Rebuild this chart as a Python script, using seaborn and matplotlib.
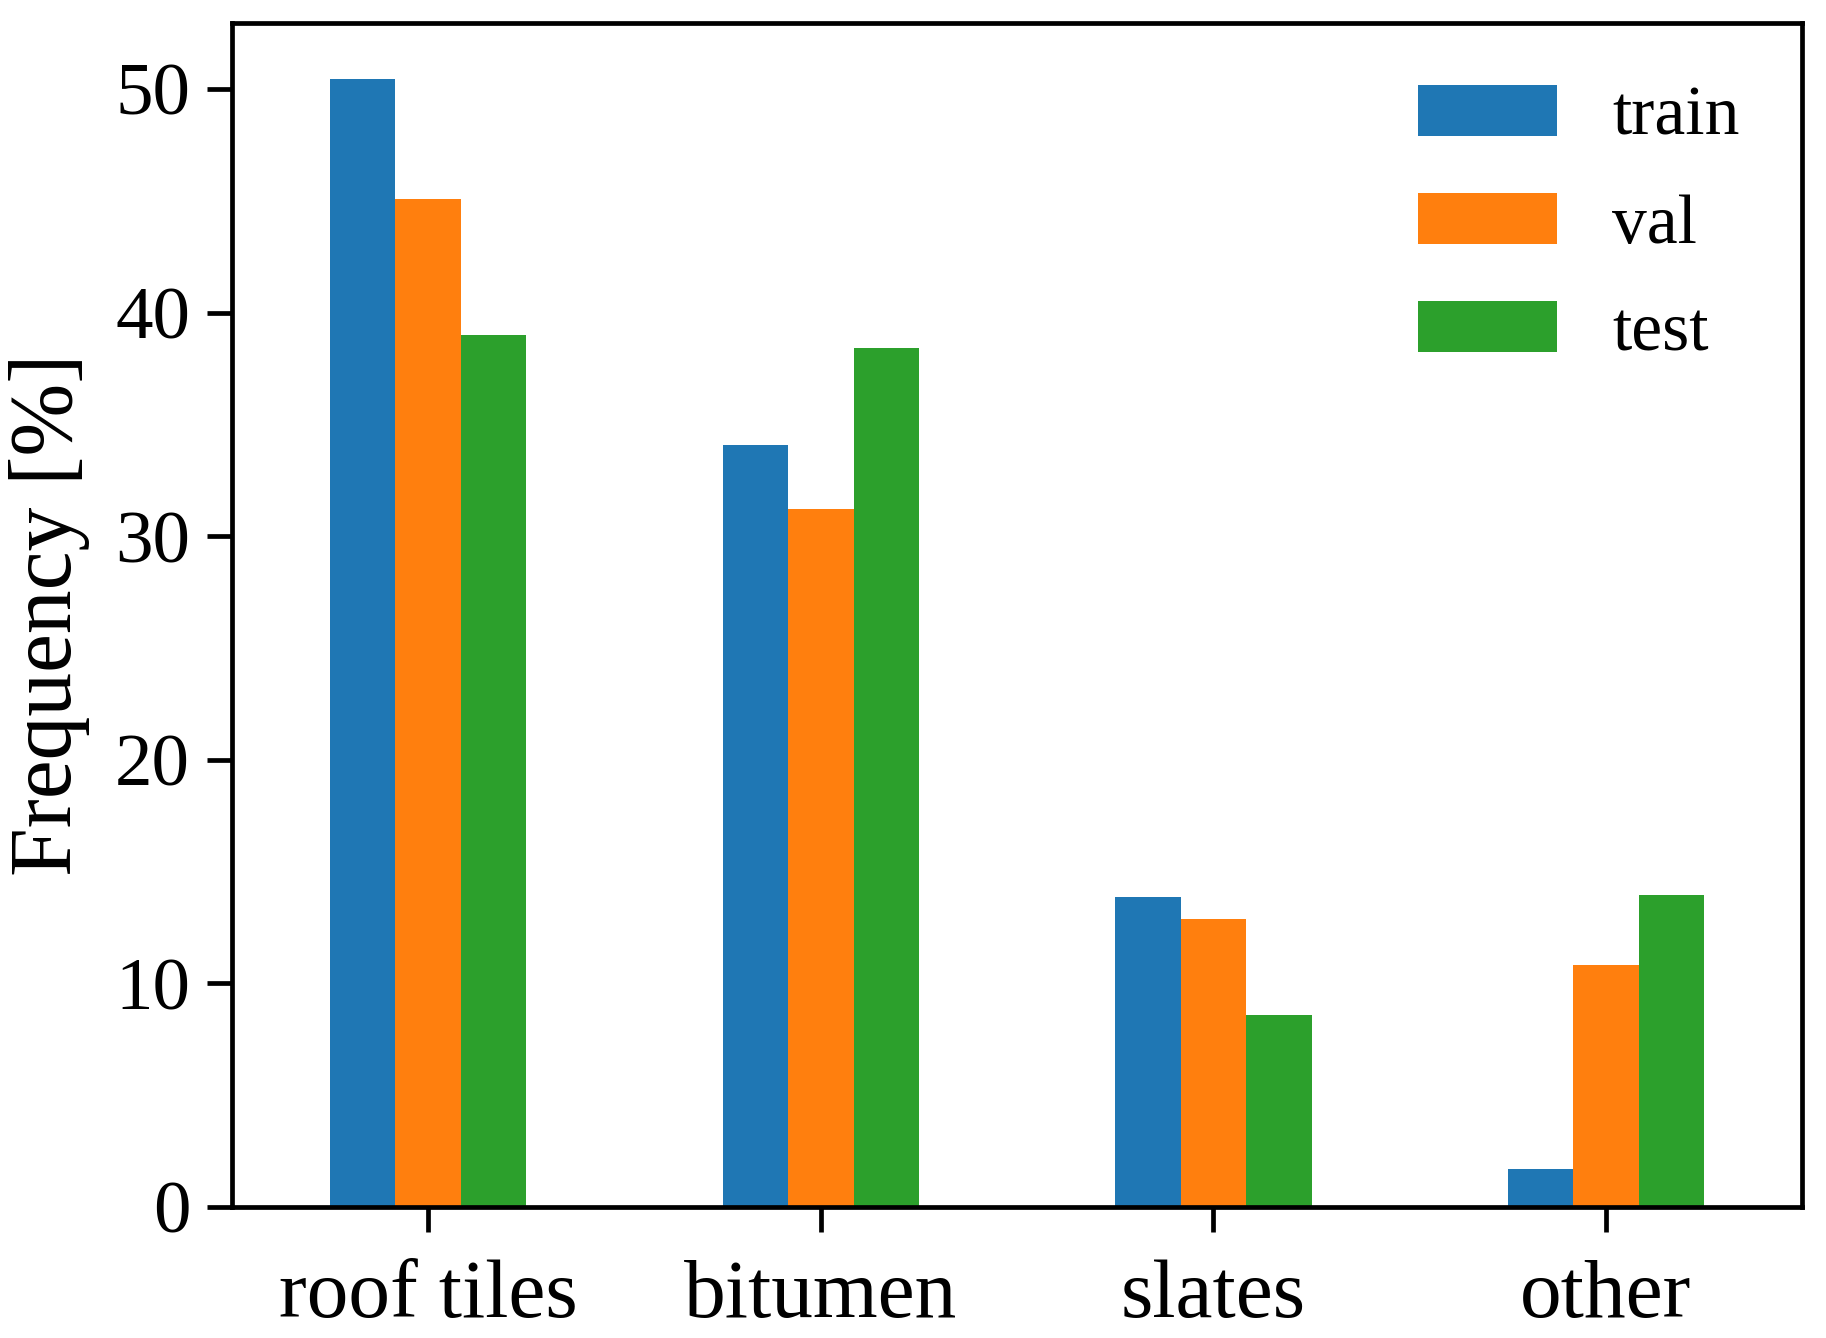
import matplotlib
matplotlib.use("Agg")
import matplotlib.pyplot as plt
import pandas as pd
import seaborn as sns

# values (percent)
materials = ["roof tiles", "bitumen", "slates", "other"]
splits = ["train", "val", "test"]
train = [50.45, 34.1, 13.85, 1.7]
val = [45.1, 31.2, 12.9, 10.8]
test = [39.0, 38.4, 8.6, 13.95]
colors = ["#1f77b4", "#ff7f0e", "#2ca02c"]

rows = []
for name, vals in zip(splits, [train, val, test]):
    for m, v in zip(materials, vals):
        rows.append({"material": m, "split": name, "freq": v})
df = pd.DataFrame(rows)

sns.set_style("ticks")
plt.rcParams["font.family"] = ["Liberation Serif", "DejaVu Serif"]
plt.rcParams["axes.linewidth"] = 1.7
plt.rcParams["text.color"] = "black"
plt.rcParams["axes.labelcolor"] = "black"
plt.rcParams["xtick.color"] = "black"
plt.rcParams["ytick.color"] = "black"

fig = plt.figure(figsize=(9.13, 6.69), dpi=200)
ax = fig.add_axes([0.127, 0.098, 0.86, 0.885])

sns.barplot(data=df, x="material", y="freq", hue="split", order=materials,
            hue_order=splits, palette=colors, width=0.5, saturation=1,
            linewidth=0, ax=ax)

ax.set_xlim(-0.5, 3.5)
ax.set_yticks([0, 10, 20, 30, 40, 50])
ax.set_xlabel("")
ax.set_ylabel("Frequency [%]", fontsize=31.5, labelpad=9)
ax.tick_params(axis="x", labelsize=30, length=9, width=1.7, pad=10)
ax.tick_params(axis="y", labelsize=27, length=9, width=1.7, pad=6)
for s in ax.spines.values():
    s.set_visible(True)
    s.set_color("black")
    s.set_linewidth(1.7)

ax.legend(loc="upper right", frameon=False, fontsize=25, title=None,
          labelspacing=0.62, handleheight=0.75)

fig.savefig("out.png", dpi=200)
